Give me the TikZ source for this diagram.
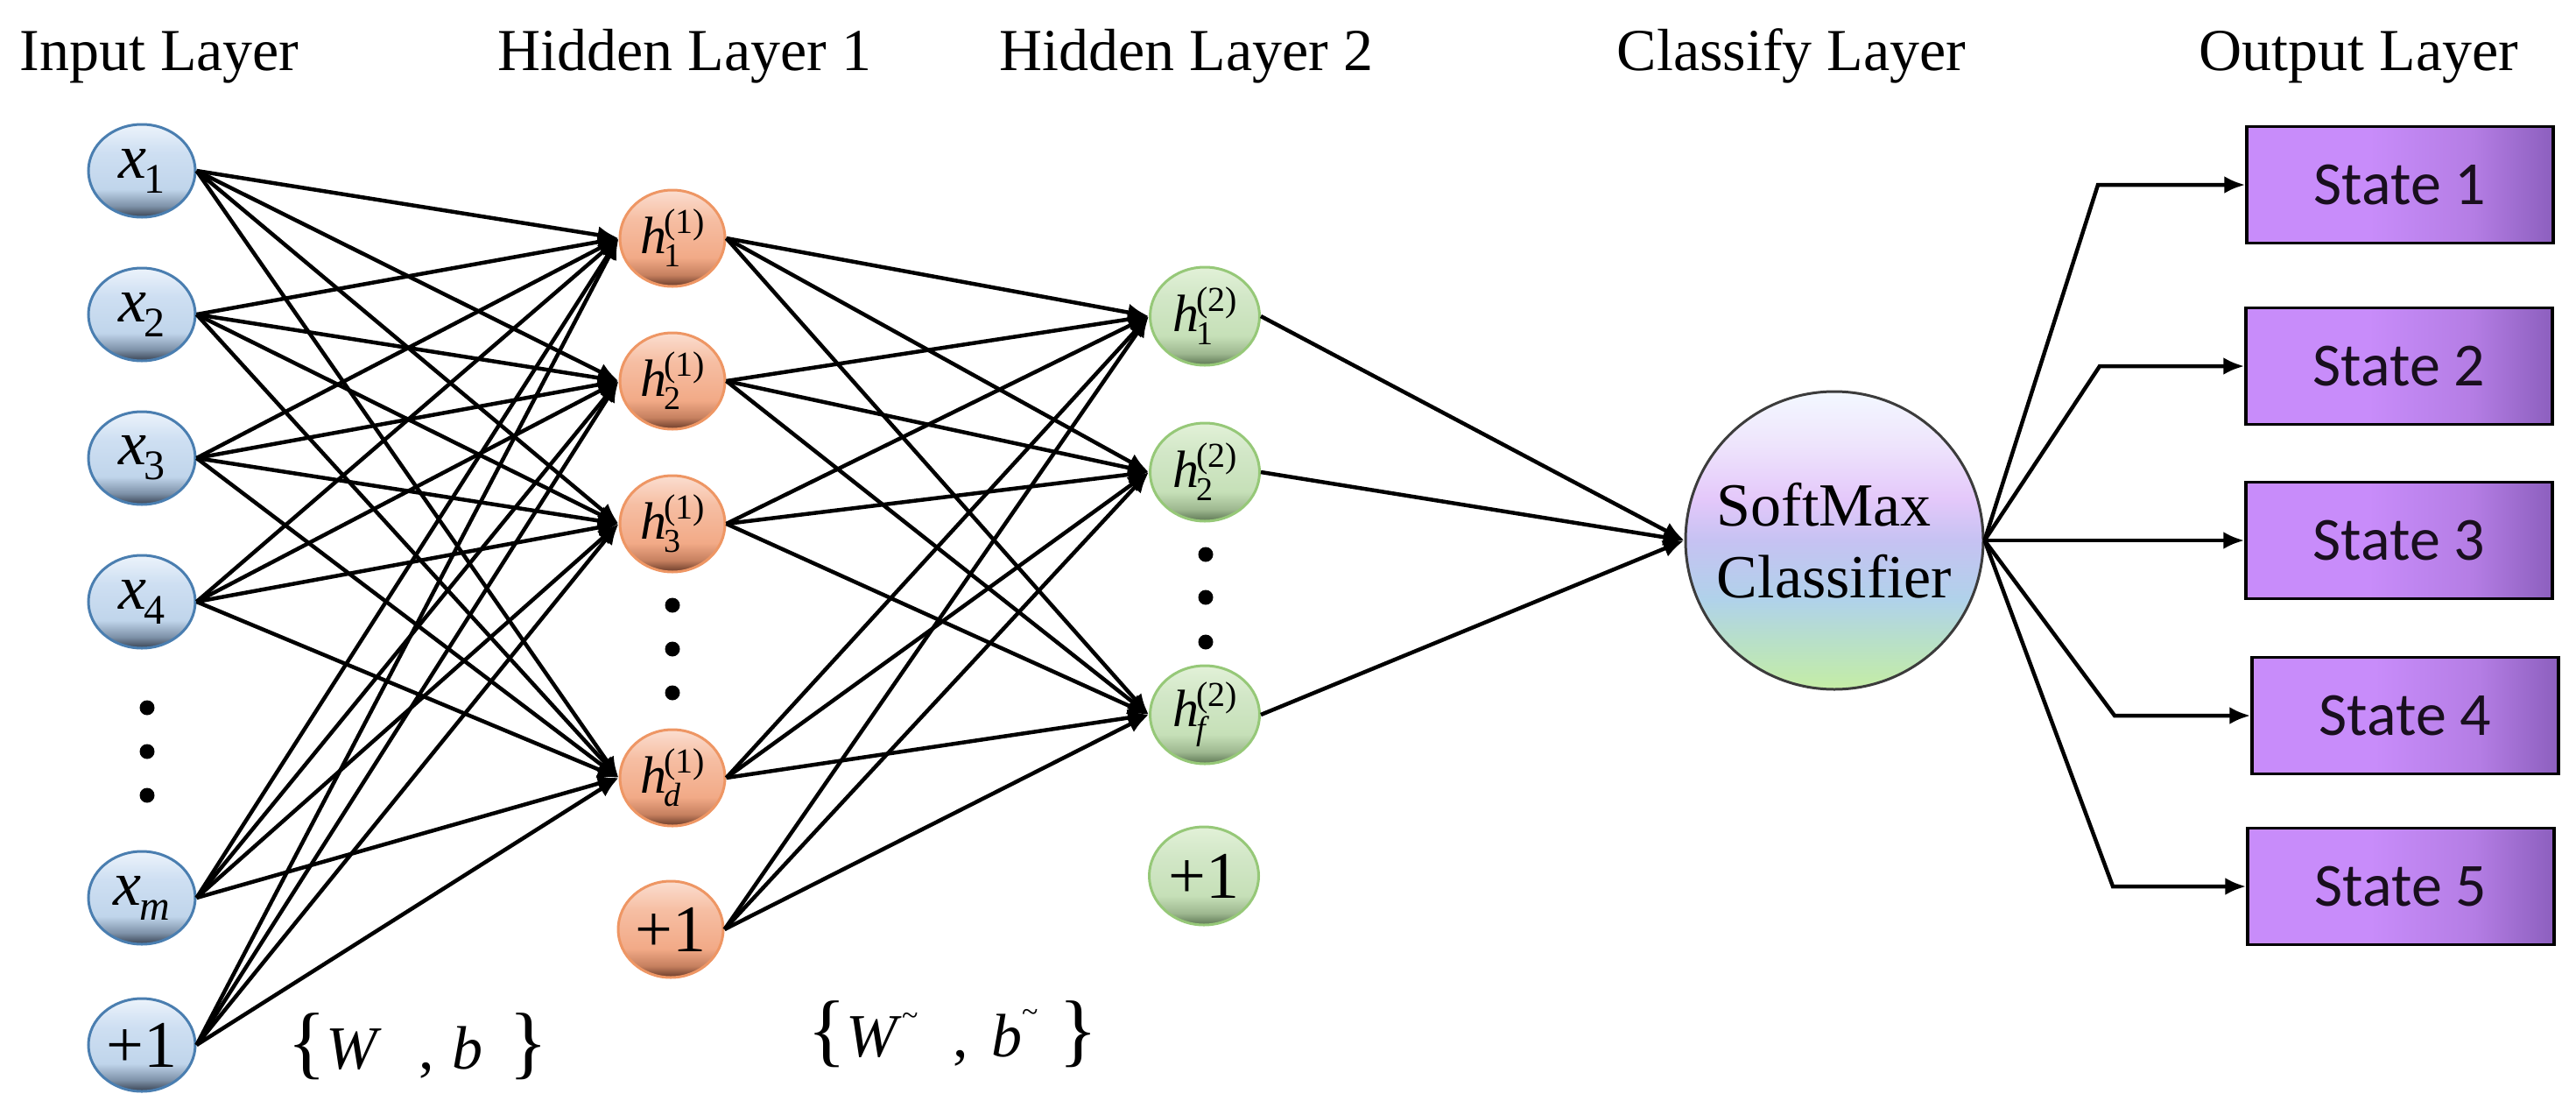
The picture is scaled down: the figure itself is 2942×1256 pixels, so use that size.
\documentclass[tikz,border=0pt]{standalone}
\usepackage{fontspec}
\setmainfont{Liberation Serif}
\newfontfamily\statefont{Carlito}
\usetikzlibrary{shapes.geometric,arrows.meta}

\definecolor{bD}{RGB}{55,65,80}
\definecolor{bL}{RGB}{125,145,168}
\definecolor{bM}{RGB}{192,213,235}
\definecolor{bN}{RGB}{206,223,242}
\definecolor{bT}{RGB}{236,243,251}
\definecolor{bB}{RGB}{74,126,176}

\definecolor{oD}{RGB}{105,58,40}
\definecolor{oL}{RGB}{198,128,95}
\definecolor{oM}{RGB}{242,170,135}
\definecolor{oN}{RGB}{246,190,163}
\definecolor{oT}{RGB}{251,222,208}
\definecolor{oB}{RGB}{238,150,100}

\definecolor{gD}{RGB}{92,118,82}
\definecolor{gL}{RGB}{158,184,144}
\definecolor{gM}{RGB}{198,224,184}
\definecolor{gN}{RGB}{210,231,199}
\definecolor{gT}{RGB}{226,241,216}
\definecolor{gB}{RGB}{150,200,120}

\definecolor{sA}{RGB}{197,237,165}
\definecolor{sB}{RGB}{184,224,200}
\definecolor{sC}{RGB}{176,210,234}
\definecolor{sE}{RGB}{198,194,242}
\definecolor{sF}{RGB}{228,200,250}
\definecolor{sG}{RGB}{238,228,252}
\definecolor{sH}{RGB}{243,248,255}
\definecolor{sBord}{RGB}{60,60,60}

\definecolor{pL}{RGB}{200,140,250}
\definecolor{pM}{RGB}{180,125,228}
\definecolor{pD}{RGB}{140,95,190}
\definecolor{stxt}{RGB}{25,15,30}

\pgfdeclareverticalshading{bluesh}{100bp}{color(0bp)=(bD); color(25bp)=(bD); color(31bp)=(bL); color(40bp)=(bM); color(60bp)=(bN); color(75bp)=(bT); color(100bp)=(bT)}
\pgfdeclareverticalshading{orangesh}{100bp}{color(0bp)=(oD); color(25bp)=(oD); color(31bp)=(oL); color(40bp)=(oM); color(60bp)=(oN); color(75bp)=(oT); color(100bp)=(oT)}
\pgfdeclareverticalshading{greensh}{100bp}{color(0bp)=(gD); color(25bp)=(gD); color(31bp)=(gL); color(40bp)=(gM); color(60bp)=(gN); color(75bp)=(gT); color(100bp)=(gT)}
\pgfdeclareverticalshading{smsh}{100bp}{color(0bp)=(sA); color(25bp)=(sA); color(33bp)=(sB); color(40bp)=(sC); color(50bp)=(sE); color(57bp)=(sF); color(66bp)=(sG); color(75bp)=(sH); color(100bp)=(sH)}
\pgfdeclarehorizontalshading{boxsh}{100bp}{color(0bp)=(pL); color(25bp)=(pL); color(45bp)=(pL); color(62bp)=(pM); color(75bp)=(pD); color(100bp)=(pD)}

\newcommand{\xlab}[1]{{\fontsize{72}{72}\selectfont\itshape x}\kern-2pt\raisebox{-17pt}{\fontsize{48}{48}\selectfont #1}}
\newcommand{\hlab}[2]{{\fontsize{60}{60}\selectfont\itshape h}\kern-3pt\rlap{\raisebox{-15pt}{\fontsize{38}{38}\selectfont #1}}\raisebox{23pt}{\fontsize{40}{40}\selectfont(#2)}}
\newcommand{\plab}{{\fontsize{76}{76}\selectfont +1}}
\newcommand{\tld}{{\fontsize{34}{34}\selectfont\textasciitilde}}

\tikzset{
  innode/.style={ellipse, minimum width=122pt, minimum height=106pt, inner sep=0pt, draw=bB, line width=3pt, shading=bluesh},
  honode/.style={ellipse, minimum width=120pt, minimum height=110pt, inner sep=0pt, draw=oB, line width=3pt, shading=orangesh},
  htnode/.style={ellipse, minimum width=125pt, minimum height=112pt, inner sep=0pt, draw=gB, line width=3pt, shading=greensh},
  statebox/.style={rectangle, minimum width=350pt, minimum height=133pt, inner sep=0pt, draw=black, line width=3.5pt, shading=boxsh, text=stxt, font=\statefont\fontsize{70}{70}\selectfont},
  title/.style={anchor=base, inner sep=0pt, font=\fontsize{68}{80}\selectfont},
  conn/.style={line width=4.5pt, -{Latex[length=24pt,width=20pt]}},
  dotmark/.style={circle, fill=black, minimum size=17pt, inner sep=0pt},
  brack/.style={inner sep=0pt, font=\fontsize{70}{70}\selectfont}
}

\begin{document}
\begin{tikzpicture}[x=1pt,y=-1pt]
\useasboundingbox (0,0) rectangle (2942,1256);

% titles
\node[title] (t1) at (182,80) {Input Layer};
\node[title] (t2) at (782,80) {Hidden Layer 1};
\node[title] (t3) at (1355,80) {Hidden Layer 2};
\node[title] (t4) at (2046,80) {Classify Layer};
\node[title] (t5) at (2694,80) {Output Layer};

% input layer
\node[innode] (x1) at (162,195) {\xlab{1}};
\node[innode] (x2) at (162,359) {\xlab{2}};
\node[innode] (x3) at (162,523) {\xlab{3}};
\node[innode] (x4) at (162,687) {\xlab{4}};
\node[innode] (xm) at (162,1025) {\xlab{\itshape m}};
\node[innode] (xb) at (162,1193) {\plab};
\node[dotmark] (xd1) at (168,808) {};
\node[dotmark] (xd2) at (168,858) {};
\node[dotmark] (xd3) at (168,908) {};

% hidden layer 1
\node[honode] (ha) at (768,272) {\hlab{1}{1}};
\node[honode] (hb) at (768,435) {\hlab{2}{1}};
\node[honode] (hc) at (768,598) {\hlab{3}{1}};
\node[honode] (hd) at (768,888) {\hlab{\itshape d}{1}};
\node[honode] (he) at (766,1061) {\plab};
\node[dotmark] (hd1) at (768,691) {};
\node[dotmark] (hd2) at (768,741) {};
\node[dotmark] (hd3) at (768,791) {};

% hidden layer 2
\node[htnode] (ga) at (1376,361) {\hlab{1}{2}};
\node[htnode] (gb) at (1376,539) {\hlab{2}{2}};
\node[htnode] (gf) at (1376,816) {\hlab{\itshape f}{2}};
\node[htnode] (ge) at (1375,1000) {\plab};
\node[dotmark] (gd1) at (1377,633) {};
\node[dotmark] (gd2) at (1377,682) {};
\node[dotmark] (gd3) at (1377,733) {};

% softmax
\node[circle, minimum size=340pt, inner sep=0pt, draw=sBord, line width=3pt, shading=smsh,
      align=left, font=\fontsize{70}{82}\selectfont] (sm) at (2095,617) {SoftMax\\Classifier};

% output boxes
\node[statebox] (s1) at (2741,211) {State 1};
\node[statebox] (s2) at (2740,418) {State 2};
\node[statebox] (s3) at (2740,617) {State 3};
\node[statebox] (s4) at (2747,817) {State 4};
\node[statebox] (s5) at (2742,1012) {State 5};

% parameter labels
\node[brack] (w1) at (477,1195) {{\fontsize{92}{92}\selectfont\{}\textit{W}\hspace{42pt},\hspace{20pt}\textit{b}\hspace{30pt}{\fontsize{92}{92}\selectfont\}}};
\node[brack] (w2) at (1088,1181) {{\fontsize{92}{92}\selectfont\{}\textit{W}\raisebox{36pt}{\tld}\hspace{40pt},\hspace{26pt}\textit{b}\raisebox{40pt}{\tld}\hspace{24pt}{\fontsize{92}{92}\selectfont\}}};

% connections input -> hidden 1
\foreach \s in {x1,x2,x3,x4,xm,xb}
  \foreach \t in {ha,hb,hc,hd}
    \draw[conn] (\s.east) -- (\t.west);

% hidden 1 -> hidden 2
\foreach \s in {ha,hb,hc,hd,he}
  \foreach \t in {ga,gb,gf}
    \draw[conn] (\s.east) -- (\t.west);

% hidden 2 -> softmax
\foreach \s in {ga,gb,gf}
  \draw[conn] (\s.east) -- (sm.west);

% softmax -> states
\coordinate (b1) at (2396,211);
\coordinate (b2) at (2398,418);
\coordinate (b4) at (2415,817);
\coordinate (b5) at (2413,1012);
\draw[conn] (sm.east) -- (b1) -- (s1.west);
\draw[conn] (sm.east) -- (b2) -- (s2.west);
\draw[conn] (sm.east) -- (s3.west);
\draw[conn] (sm.east) -- (b4) -- (s4.west);
\draw[conn] (sm.east) -- (b5) -- (s5.west);
\end{tikzpicture}
\end{document}
